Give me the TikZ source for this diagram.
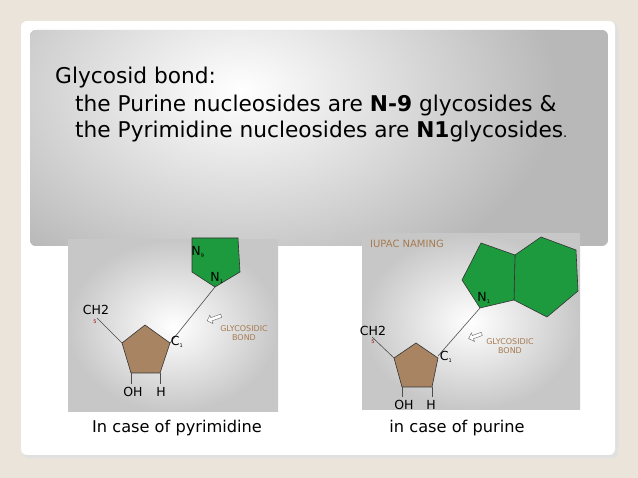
\documentclass[tikz,border=0pt]{standalone}
\usepackage{fontspec}
\setmainfont{DejaVu Sans}
\usetikzlibrary{shapes.arrows}
\definecolor{bg}{HTML}{EAE4DA}
\definecolor{sugar}{HTML}{A88462}
\definecolor{base}{HTML}{1E9A3E}
\definecolor{brn}{HTML}{A67C52}
\begin{document}
\begin{tikzpicture}[x=1pt,y=-1pt,
  lbl/.style={inner sep=0pt,font=\fontsize{12.5}{13}\selectfont},
  small/.style={inner sep=0pt,font=\fontsize{8}{9}\selectfont,text=brn,align=center},
  ring/.style={draw=black!80,line width=0.6pt},
  bond/.style={draw=black!70,line width=0.6pt},
  txt/.style={anchor=west,inner sep=0pt,font=\fontsize{21.7}{23}\selectfont},
  captxt/.style={inner sep=0pt,font=\fontsize{16.2}{17}\selectfont}]
\useasboundingbox (0,0) rectangle (638,478);
\fill[bg] (0,0) rectangle (638,478);
\fill[black!12,rounded corners=6pt] (23,23) rectangle (618,458);
\fill[white,rounded corners=6pt] (21,21) rectangle (615,455);
\begin{scope}
\clip[rounded corners=6pt] (30,30) rectangle (608,246);
\fill[black!28] (30,30) rectangle (608,246);
\shade[inner color=white,outer color=black!28] (-80,-120) rectangle (560,300);
\end{scope}
\node[txt] (t1) at (55,78) {Glycosid bond:};
\node[txt] (t2) at (75,106) {the Purine nucleosides are \textbf{N-9} glycosides \&};
\node[txt] (t3) at (75,132) {the Pyrimidine nucleosides are \textbf{N1}glycosides{\fontsize{13}{13}\selectfont.}};
% left image
\shade[inner color=white,outer color=black!22] (68,240) rectangle (278,412);
\fill[sugar,ring] (145,325) -- (170,343) -- (160,373) -- (131,373) -- (122,343) -- cycle;
\fill[base,ring] (192,238) -- (238,238) -- (240,272) -- (215,287) -- (192,272) -- cycle;
\coordinate (l5) at (97,318);
\coordinate (lc1) at (170,343);
\coordinate (ln1) at (215,287);
\draw[bond] (l5) -- (122,343);
\draw[bond] (lc1) -- (ln1);
\draw[bond] (131,373) -- (131,384);
\draw[bond] (160,373) -- (160,384);
\node[lbl] (lch) at (96,310) {CH2};
\node[inner sep=0pt,font=\fontsize{5}{5}\selectfont,text=red!60!black] (l5n) at (95,322) {5};
\node[lbl] (loh) at (133,392) {OH};
\node[lbl] (lh) at (161,392) {H};
\node[lbl] (lc) at (177,342) {C\textsubscript{\tiny1}};
\node[lbl] (ln9) at (198,252) {N\textsubscript{\tiny9}};
\node[lbl] (lnn) at (217,278) {N\textsubscript{\tiny1}};
\node[single arrow,draw=black!60,fill=white,minimum height=15pt,minimum width=9pt,inner sep=1pt,single arrow head extend=2pt,rotate=200] (la) at (215,318) {};
\node[small] (lg) at (244,333) {GLYCOSIDIC\\BOND};
% right image
\shade[inner color=white,outer color=black!22] (362,234) rectangle (580,410);
\fill[sugar,ring] (416,343) -- (438,358) -- (432,387) -- (402,387) -- (394,358) -- cycle;
\fill[base,ring] (515,255) -- (541,237) -- (576,250) -- (578,291) -- (547,317) -- (514,300) -- cycle;
\fill[base,ring] (480,308) -- (462,280) -- (481,243) -- (515,255) -- (514,300) -- cycle;
\coordinate (r5) at (372,337);
\coordinate (rc1) at (438,356);
\coordinate (rn) at (480,308);
\draw[bond] (r5) -- (394,358);
\draw[bond] (rc1) -- (rn);
\draw[bond] (402,387) -- (402,397);
\draw[bond] (432,387) -- (432,397);
\node[lbl] (rch) at (373,331) {CH2};
\node[inner sep=0pt,font=\fontsize{5}{5}\selectfont,text=red!60!black] (r5n) at (373,342) {5};
\node[lbl] (roh) at (404,405) {OH};
\node[lbl] (rh) at (431,405) {H};
\node[lbl] (rc) at (446,357) {C\textsubscript{\tiny1}};
\node[lbl] (rnn) at (484,298) {N\textsubscript{\tiny1}};
\node[inner sep=0pt,font=\fontsize{10}{10}\selectfont,text=brn] (iu) at (407,244) {IUPAC NAMING};
\node[single arrow,draw=black!60,fill=white,minimum height=14pt,minimum width=9pt,inner sep=1pt,single arrow head extend=2pt,rotate=200] (ra) at (476,336) {};
\node[small] (rg) at (510,346) {GLYCOSIDIC\\BOND};
\node[captxt] (c1) at (177,428) {In case of pyrimidine};
\node[captxt] (c2) at (457,428) {in case of purine};
\end{tikzpicture}
\end{document}
